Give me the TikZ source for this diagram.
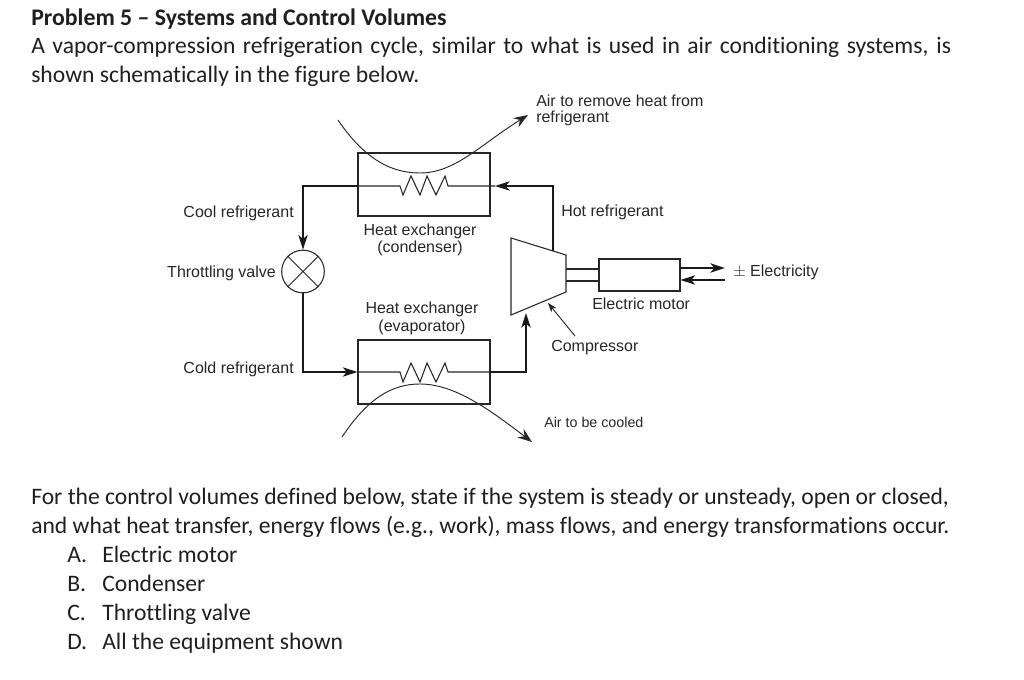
\documentclass[tikz,border=0pt]{standalone}
\usepackage{fontspec}
\setmainfont{Carlito}[Ligatures=NoCommon]
\newfontfamily\diagfont{Liberation Sans}
\usetikzlibrary{arrows.meta}
\tikzset{
  body/.style={anchor=base west,inner sep=0pt,font=\fontsize{17.7pt}{20pt}\selectfont,text=black!88},
  lab/.style={inner sep=0pt,font=\diagfont\fontsize{12pt}{13pt}\selectfont,text=black!85},
  thin line/.style={line width=0.8pt,black!85},
  flow/.style={line width=1.3pt,black!90},
  tip/.style={-{Stealth[length=11pt,width=7pt,inset=3pt]}},
  hair/.style={line width=0.7pt,black!85},
  airtip/.style={-{Stealth[length=11pt,width=8pt,inset=4pt]}}
}
\begin{document}
\begin{tikzpicture}[x=0.75pt,y=-0.75pt]
\useasboundingbox (0,0) rectangle (1024,680);
% body text
\node[body,font=\bfseries\fontsize{17.85pt}{18pt}\selectfont] (title) at (31,25.5) {Problem 5 -- Systems and Control Volumes};
\node[body] (p1) at (31,54) {\makebox[690pt][s]{A vapor-compression refrigeration cycle, similar to what is used in air conditioning systems, is}};
\node[body] (p2) at (31,83) {shown schematically in the figure below.};
\node[body] (q1) at (31,504) {For the control volumes defined below, state if the system is steady or unsteady, open or closed,};
\node[body] (q2) at (31,533) {and what heat transfer, energy flows (e.g., work), mass flows, and energy transformations occur.};
\node[body] (la) at (67,562) {A.};\node[body] (ta) at (102,562) {Electric motor};
\node[body] (lb) at (67,591) {B.};\node[body] (tb) at (102,591) {Condenser};
\node[body] (lc) at (67,620) {C.};\node[body] (tc) at (102,620) {Throttling valve};
\node[body] (ld) at (67,649) {D.};\node[body] (td) at (102,649) {All the equipment shown};
% equipment
\node[draw,thin line,minimum width=99pt,minimum height=47.25pt,inner sep=0pt] (cond) at (424,184.5) {};
\node[draw,thin line,minimum width=99pt,minimum height=48pt,inner sep=0pt] (evap) at (424,372) {};
\node[draw,thin line,minimum width=60.75pt,minimum height=24pt,inner sep=0pt] (motor) at (639.5,275) {};
\node[draw,thin line,circle,minimum size=32pt,inner sep=0pt] (valve) at (303,271.5) {};
\draw[hair] (valve.45) -- (valve.225) (valve.135) -- (valve.315);
\draw[thin line,line join=miter] (511,238) coordinate (c1) -- (566,255) coordinate (c2) -- (566,292) coordinate (c3) -- (511,315) coordinate (c4) -- cycle;
% free points
\coordinate (topL) at (303,186);
\coordinate (topR) at (553,186);
\coordinate (compIn) at (553,251);
\coordinate (botL) at (303,372);
\coordinate (botR) at (526,372);
\coordinate (compOut) at (526,313);
% refrigerant loop
\draw[flow,tip] (compIn) -- (topR) -- (495,186);
\draw[thin line] (495,186) -- (448,186) -- (445,176) -- (436,195) -- (427,176) -- (420,195) -- (411,176) -- (403,195) -- (400,186) -- (358,186);
\draw[flow,tip] (358,186) -- (topL) -- (valve.north);
\draw[flow,tip] (valve.south) -- (botL) -- (evap.west);
\draw[thin line] (evap.west) -- (400,372) -- (403,382) -- (411,363) -- (420,382) -- (427,363) -- (436,382) -- (445,363) -- (448,372) -- (490,372);
\draw[flow,tip] (490,372) -- (botR) -- (compOut);
% shaft
\draw[thin line] (566,269) -- (599,269) (566,281) -- (599,281);
% electricity
\draw[flow,tip] (680,268) -- (725,268);
\draw[flow,tip] (725,280) -- (680.5,280);
% air
\coordinate (a1) at (338,120);
\coordinate (a2) at (528,115);
\draw[hair,airtip] (a1) .. controls (365,160) and (392,173) .. (420,173) .. controls (455,173) and (480,145) .. (a2);
\coordinate (b1) at (342,437);
\coordinate (b2) at (532,442);
\draw[hair,airtip] (b1) .. controls (368,398) and (392,384) .. (420,384) .. controls (455,384) and (490,410) .. (b2);
% compressor label
\node[lab,anchor=base west] (lcomp) at (551,352) {Compressor};
\coordinate (ptr) at (548,303);
\draw[hair,-{Stealth[length=7pt,width=5pt,inset=2pt]}] (575,336) -- (ptr);
% labels
\node[lab,anchor=base west] (l1) at (536,107) {Air to remove heat from};
\node[lab,anchor=base west] (l2) at (536,123) {refrigerant};
\node[lab,anchor=base west] (l3) at (561,217) {Hot refrigerant};
\node[lab,anchor=base east] (l4) at (294,218) {Cool refrigerant};
\node[lab,anchor=base east] (l5) at (276,278) {Throttling valve};
\node[lab,anchor=base east] (l6) at (294,374) {Cold refrigerant};
\node[lab,anchor=base] (l7a) at (420,236) {Heat exchanger};
\node[lab,anchor=base] (l7b) at (420,253) {(condenser)};
\node[lab,anchor=base] (l8a) at (422,314) {Heat exchanger};
\node[lab,anchor=base] (l8b) at (422,332) {(evaporator)};
\node[lab,anchor=base west] (l9) at (733,277) {$\pm$ Electricity};
\node[lab,anchor=base west] (l10) at (592,310) {Electric motor};
\node[lab,anchor=base west,font=\diagfont\fontsize{10.7pt}{13pt}\selectfont] (l11) at (544,428) {Air to be cooled};
\end{tikzpicture}
\end{document}
